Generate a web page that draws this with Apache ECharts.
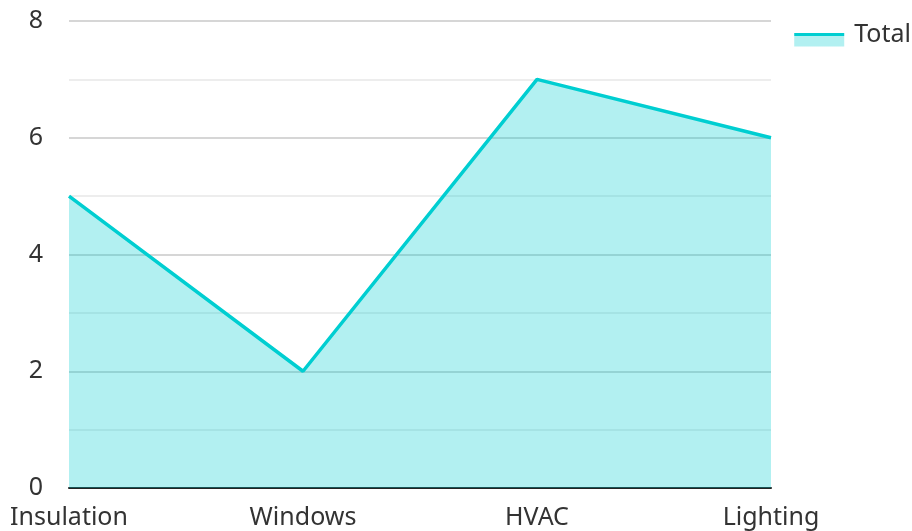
<!DOCTYPE html>
<html><head><meta charset="utf-8">
<script src="https://cdn.jsdelivr.net/npm/echarts@6/dist/echarts.min.js"></script>
<style>html,body{margin:0;padding:0;background:#fff}#c{width:912px;height:531px}</style>
</head><body><div id="c"></div>
<script>
const categories = ['Insulation', 'Windows', 'HVAC', 'Lighting'];
const totalValues = [5, 2, 7, 6];
const seriesName = 'Total';

const chart = echarts.init(document.getElementById('c'));
chart.setOption({
  animation: false,
  textStyle: { fontFamily: 'Noto Sans' },
  grid: { left: 69, right: 141, top: 21, bottom: 43, containLabel: false },
  legend: {
    data: [{
      name: seriesName, icon: 'rect',
      itemStyle: {
        color: new echarts.graphic.LinearGradient(0, 0, 0, 1, [
          { offset: 0, color: 'rgba(255,255,255,0)' }, { offset: 0.417, color: 'rgba(255,255,255,0)' },
          { offset: 0.417, color: '#00CED1' }, { offset: 0.583, color: '#00CED1' },
          { offset: 0.583, color: '#b2f0f1' }, { offset: 1, color: '#b2f0f1' }
        ])
      }
    }],
    right: -4, top: 17, itemWidth: 50, itemHeight: 24, itemGap: 10,
    formatter: '{a|{name}}',
    textStyle: { fontSize: 25, color: '#333', fontFamily: 'Noto Sans',
      rich: { a: { fontSize: 25, color: '#333', fontFamily: 'Noto Sans', padding: [0, 0, 0, 5] } } }
  },
  xAxis: {
    type: 'category', data: categories, boundaryGap: false,
    axisLine: { lineStyle: { color: '#222', width: 2 } },
    axisTick: { show: false },
    axisLabel: { fontSize: 25, color: '#333', margin: 17, fontFamily: 'Noto Sans' },
    splitLine: { show: false }
  },
  yAxis: {
    type: 'value', min: 0, max: 8, interval: 2,
    axisLine: { show: false }, axisTick: { show: false },
    axisLabel: { fontSize: 25, color: '#333', margin: 26, fontFamily: 'Noto Sans' },
    splitLine: { lineStyle: { color: '#c8c8c8', width: 1.5 } },
    minorTick: { show: false, splitNumber: 2 },
    minorSplitLine: { show: true, lineStyle: { color: '#e8e8e8', width: 1.5 } }
  },
  series: [{
    name: seriesName, type: 'line', data: totalValues,
    symbol: 'none', showSymbol: false,
    lineStyle: { color: '#00CED1', width: 3.5 },
    itemStyle: { color: '#00CED1' },
    areaStyle: { color: '#00CED1', opacity: 0.3 }
  }]
});
</script></body></html>
